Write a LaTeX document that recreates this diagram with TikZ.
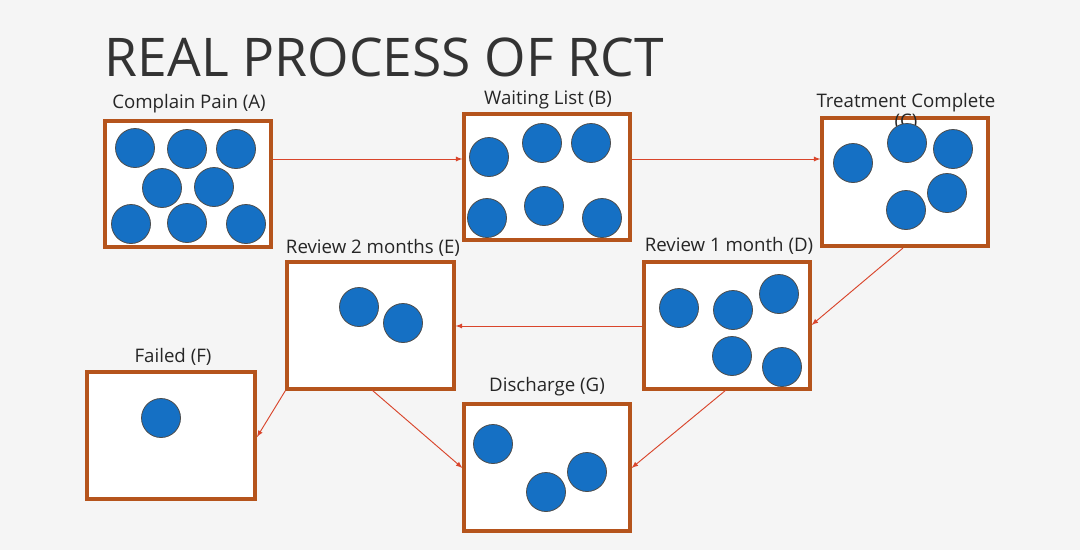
\documentclass[tikz,border=0pt]{standalone}
\usepackage{fontspec}
\setmainfont{Open Sans}
\begin{document}
\begin{tikzpicture}[x=0.75pt,y=-0.75pt,
  box/.style={draw=boxc,line width=2.4pt,fill=white,minimum width=#1,inner sep=0},
  dot/.style={circle,draw=black!70,line width=0.6pt,fill=dotc,minimum size=39*0.75pt,inner sep=0},
  lab/.style={font=\fontsize{14}{15}\selectfont,text=black!85},
  arr/.style={draw=arrc,line width=0.7pt,-latex}]
\definecolor{boxc}{HTML}{B5541C}
\definecolor{dotc}{HTML}{1570C4}
\definecolor{arrc}{HTML}{D9452B}
\fill[black!4] (0,0) rectangle (1080,550);
\useasboundingbox (0,0) rectangle (1080,550);
\node[anchor=west,font=\fontsize{40}{44}\selectfont\color{black!80}] (t) at (100,57) {REAL PROCESS OF RCT};
\newcommand{\bx}[5]{\node[box=(#4-#2)*0.75pt,minimum height=(#5-#3)*0.75pt] (#1) at ({(#2+#4)/2},{(#3+#5)/2}) {};}
\bx{A}{105}{121}{271}{247}
\bx{B}{464}{114}{630}{240}
\bx{C}{822}{118}{988}{246}
\bx{D}{644}{262}{810}{389}
\bx{E}{287}{262}{454}{389}
\bx{F}{87}{372}{255}{499}
\bx{G}{464}{404}{630}{531}
\foreach \n/\x/\y in {a1/135/148,a2/187/149,a3/236/149,a4/162/188,a5/214/187,a6/131/224,a7/187/223,a8/246/224,
 b1/489/157,b2/542/143,b3/591/143,b4/487/218,b5/544/206,b6/602/218,
 d1/679/308,d2/733/310,d3/779/294,d4/732/356,d5/782/367,
 e1/359/307,e2/403/323,f1/161/418,g1/493/444,g2/546/492,g3/587/472}
 \node[dot] (\n) at (\x,\y) {};
\node[lab] (la) at (189,104) {Complain Pain (A)};
\node[lab] (lb) at (548,100) {Waiting List (B)};
\node[lab,align=center] (lc) at (906,112) {Treatment Complete\\(C)};
\foreach \n/\x/\y in {c1/853/163,c2/907/143,c3/953/149,c4/906/210,c5/947/193}
 \node[dot] (\n) at (\x,\y) {};
\node[lab] (le) at (373,248) {Review 2 months (E)};
\node[lab] (ld) at (729,246) {Review 1 month (D)};
\node[lab] (lf) at (173,357) {Failed (F)};
\node[lab] (lg) at (547,387) {Discharge (G)};
\draw[arr] (A.east|-0,159) -- (B.west|-0,159);
\draw[arr] (B.east|-0,159) -- (C.west|-0,159);
\draw[arr] (903,248) -- (D.east|-0,325);
\draw[arr] (D.west|-0,326) -- (E.east|-0,326);
\draw[arr] (372,390) -- (G.west|-0,468);
\draw[arr] (E.south west) -- (257,437);
\draw[arr] (726,390) -- (G.east|-0,468);
\end{tikzpicture}
\end{document}
